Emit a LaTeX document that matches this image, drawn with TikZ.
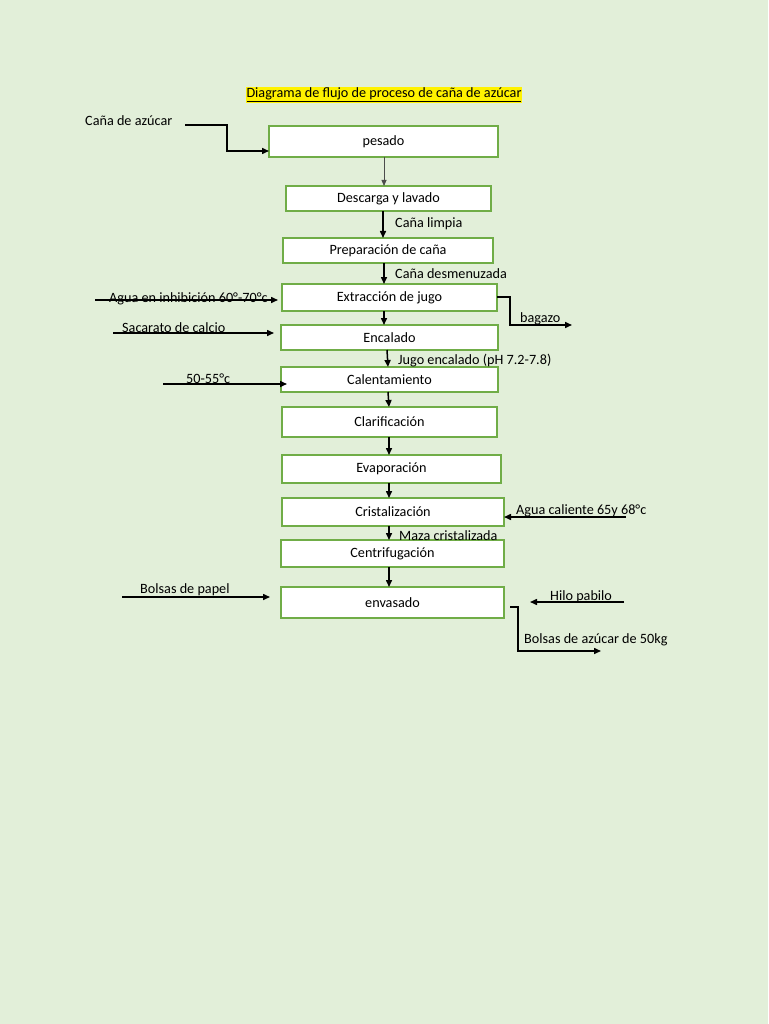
\documentclass[tikz,border=0pt]{standalone}
\usepackage{fontspec}
\setmainfont{Carlito}
\usetikzlibrary{arrows.meta}
\definecolor{bg}{HTML}{E2EFD9}
\definecolor{boxgreen}{HTML}{70AD47}
\tikzset{
  box/.style={draw=boxgreen, line width=1.1pt, fill=white, inner sep=0pt, outer sep=0pt, font=\fontsize{14.2}{17}\selectfont},
  lbl/.style={inner sep=0pt, font=\fontsize{14.2}{17}\selectfont, anchor=base west},
  flow/.style={line width=1.5pt, -{Triangle[length=7pt,width=6pt]}},
  thin flow/.style={line width=0.8pt, draw=black!70, -{Triangle[length=6pt,width=5pt]}},
}
\newcommand{\bx}[6]{\node[box, minimum width=#3pt, minimum height=#4pt] (#5) at (#1pt,-#2pt) {#6};}
\begin{document}
\begin{tikzpicture}[x=1pt,y=1pt]
\fill[bg] (0,0) rectangle (768,-1024);
\useasboundingbox (0,0) rectangle (768,-1024);
% title
\node[inner sep=1pt, fill=yellow, font=\fontsize{14.2}{17}\selectfont] (title) at (384,-95) {\underline{Diagrama de flujo de proceso de caña de azúcar}};
% boxes: center x, center y, width, height
\bx{383.5}{141.5}{229}{31}{pesado}{pesado}
\bx{388.5}{198.5}{205}{25}{desc}{Descarga y lavado}
\bx{388}{250.5}{210}{25}{prep}{Preparación de caña}
\bx{389.5}{297.5}{215}{27}{extr}{Extracción de jugo}
\bx{389.5}{337.5}{217}{25}{encal}{Encalado}
\bx{389.5}{379.5}{217}{25}{calen}{Calentamiento}
\bx{389.5}{422}{215}{30}{clar}{Clarificación}
\bx{391.5}{469}{219}{28}{evap}{Evaporación}
\bx{393}{512}{222}{28}{crist}{Cristalización}
\bx{392.5}{553.5}{223}{27}{centr}{Centrifugación}
\bx{392.5}{602.5}{223}{31}{envas}{envasado}
% main flow
\draw[thin flow] (pesado.south -| 384,0) -- (desc.north -| 384,0);
\draw[flow] (desc.south -| 383,0) -- (prep.north -| 383,0);
\draw[flow] (prep.south -| 384,0) -- (extr.north -| 384,0);
\draw[flow] (extr.south -| 384,0) -- (encal.north -| 384,0);
\draw[flow] (encal.south -| 387,0) -- (calen.north -| 388,0);
\draw[flow] (calen.south -| 388,0) -- (clar.north -| 389,0);
\draw[flow] (clar.south -| 389,0) -- (evap.north -| 389,0);
\draw[flow] (evap.south -| 389,0) -- (crist.north -| 389,0);
\draw[flow] (crist.south -| 389,0) -- (centr.north -| 389,0);
\draw[flow] (centr.south -| 389,0) -- (envas.north -| 389,0);
% flow labels
\node[lbl] (l1) at (395,-227.5) {Caña limpia};
\node[lbl] (l2) at (395,-278.5) {Caña desmenuzada};
\node[lbl] (l3) at (398,-364) {Jugo encalado (pH 7.2-7.8)};
\node[lbl] (l4) at (399,-540.5) {Maza cristalizada};
% inputs
\node[lbl] (in1) at (85,-126) {Caña de azúcar};
\coordinate (c1) at (185,-125);
\draw[flow] (c1) -- (227,-125) -- (227,-151) -- (pesado.west |- 0,-151);
\node[lbl] (in2) at (109,-302.5) {Agua en inhibición 60°-70°c};
\coordinate (c2) at (95,-300);
\draw[flow] (c2) -- (278,-300);
\node[lbl] (in3) at (122,-332.5) {Sacarato de calcio};
\coordinate (c3) at (113,-333);
\draw[flow] (c3) -- (274,-333);
\node[lbl] (in4) at (186,-383.5) {50-55°c};
\coordinate (c4) at (163,-384);
\draw[flow] (c4) -- (287,-384);
\node[lbl] (in5) at (516,-514.5) {Agua caliente 65y 68°c};
\coordinate (c5) at (626,-517);
\draw[flow] (c5) -- (crist.east |- 0,-517);
\node[lbl] (in6) at (140,-593.5) {Bolsas de papel};
\coordinate (c6) at (122,-597);
\draw[flow] (c6) -- (270,-597);
\node[lbl] (in7) at (550,-600.5) {Hilo pabilo};
\coordinate (c7) at (624,-602);
\draw[flow] (c7) -- (530,-602);
% outputs
\node[lbl] (out1) at (520,-322.5) {bagazo};
\coordinate (o1) at (572,-325);
\draw[flow] (extr.east |- 0,-297) -- (510,-297) -- (510,-325) -- (o1);
\node[lbl] (out2) at (524,-643.5) {Bolsas de azúcar de 50kg};
\coordinate (o2) at (601,-651);
\draw[flow] (510,-607) -- (518,-607) -- (518,-651) -- (o2);
\end{tikzpicture}
\end{document}
